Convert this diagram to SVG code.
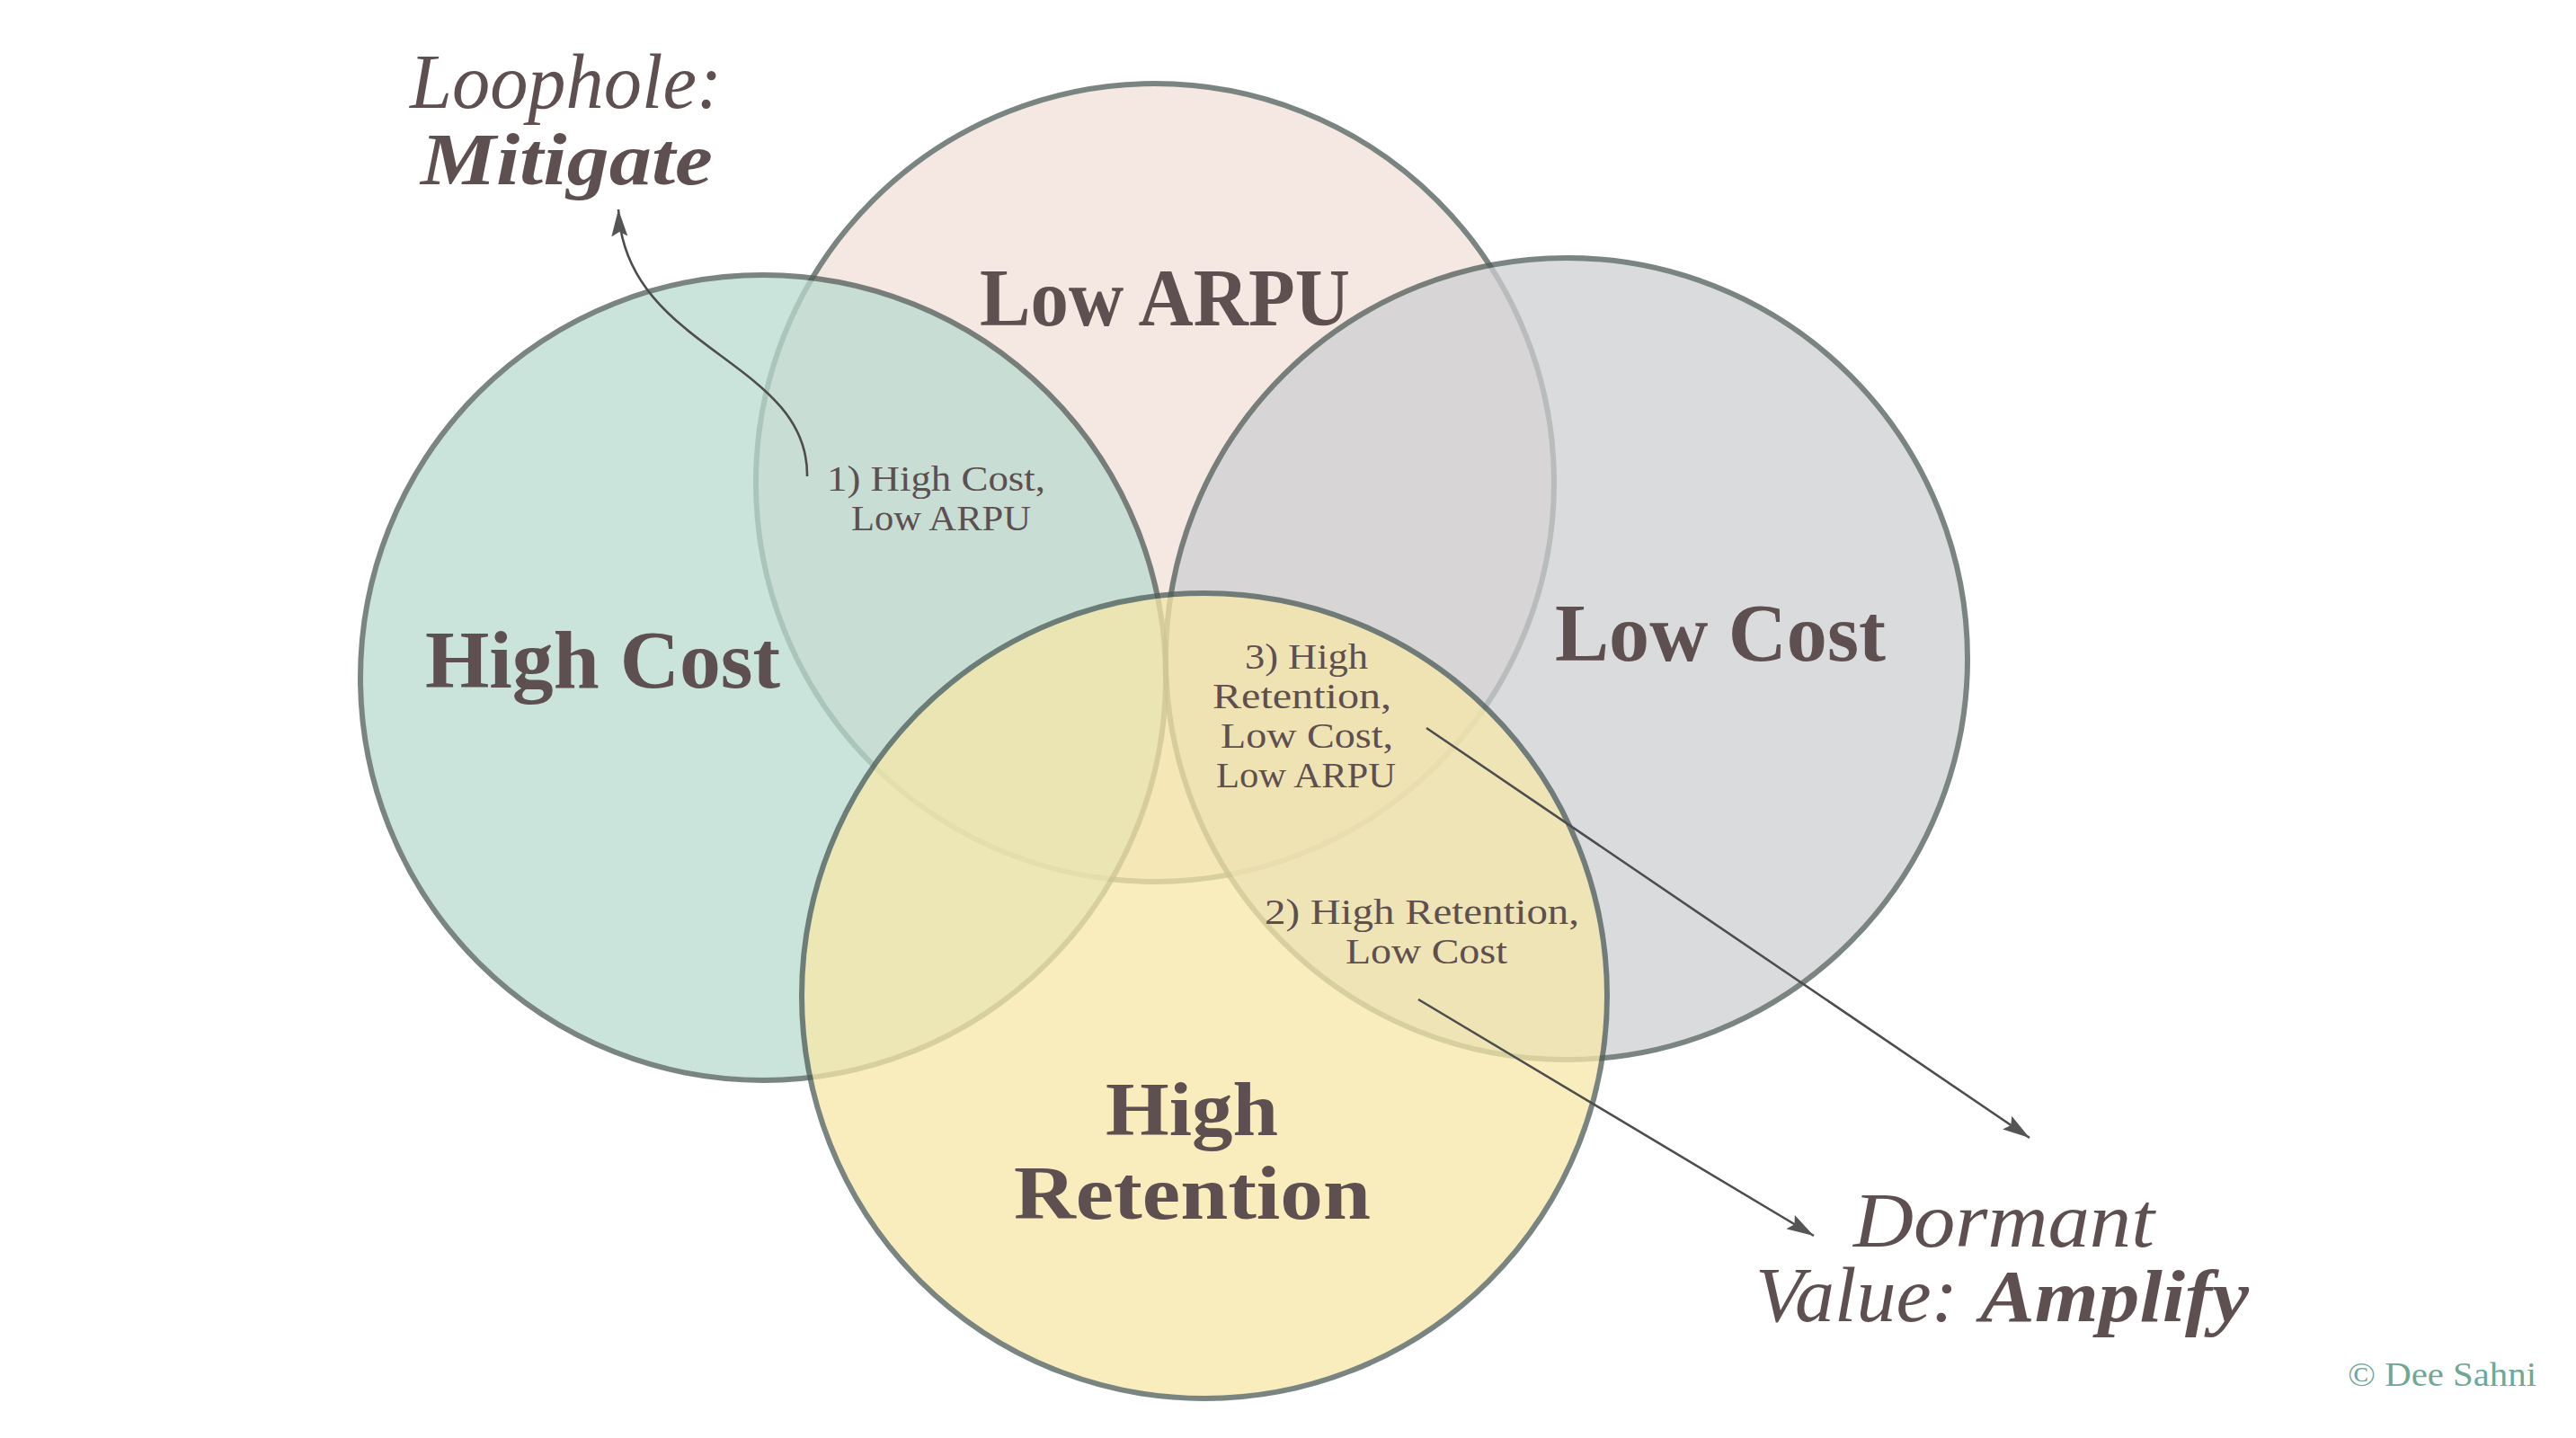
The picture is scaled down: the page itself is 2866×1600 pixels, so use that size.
<svg xmlns="http://www.w3.org/2000/svg" width="2866" height="1600" viewBox="0 0 2866 1600">
  <style>
    .set { opacity: 0.75; stroke: #4e5c58; stroke-width: 6; }
    .big { font-family: "Liberation Serif", "DejaVu Serif", serif; font-weight: bold; font-size: 90px; fill: #5e4f50; }
    .big2 { font-family: "Liberation Serif", "DejaVu Serif", serif; font-weight: bold; font-size: 84px; fill: #5e4f50; }
    .small { font-family: "Liberation Serif", "DejaVu Serif", serif; font-size: 39px; fill: #5e4f50; }
    .note { font-family: "Liberation Serif", "DejaVu Serif", serif; font-style: italic; font-size: 86px; fill: #5e4f50; }
    .noteb { font-family: "Liberation Serif", "DejaVu Serif", serif; font-style: italic; font-weight: bold; font-size: 82px; fill: #5e4f50; }
    .credit { font-family: "Liberation Serif", "DejaVu Serif", serif; font-size: 38px; fill: #6fa896; }
    .conn { fill: none; stroke: #4d4d4d; stroke-width: 2.6; }
  </style>
  <defs>
    <marker id="arrow" markerUnits="userSpaceOnUse" viewBox="0 0 30 20" markerWidth="30" markerHeight="20" refX="30" refY="10" orient="auto">
      <path d="M0,1 L30,10 L0,19 L5,10 z" fill="#555555"/>
    </marker>
  </defs>
  <rect width="2866" height="1600" fill="#ffffff"/>

  <g id="node-low-arpu">
    <circle class="set" cx="1285" cy="537" r="444" fill="#f2dfd7"/>
  </g>
  <g id="node-high-cost">
    <circle class="set" cx="849" cy="754" r="448" fill="#badcd0"/>
  </g>
  <g id="node-low-cost">
    <circle class="set" cx="1743" cy="733" r="446" fill="#cecfd2"/>
  </g>
  <g id="node-high-retention">
    <circle class="set" cx="1340" cy="1108" r="448" fill="#f7e8a8"/>
  </g>

  <g id="labels-sets">
    <text class="big" x="1090" y="362" textLength="412" lengthAdjust="spacingAndGlyphs">Low ARPU</text>
    <text class="big" x="473" y="765" textLength="395" lengthAdjust="spacingAndGlyphs">High Cost</text>
    <text class="big" x="1730" y="735" textLength="368" lengthAdjust="spacingAndGlyphs">Low Cost</text>
    <text class="big2" x="1230" y="1263" textLength="192" lengthAdjust="spacingAndGlyphs">High</text>
    <text class="big2" x="1128" y="1356" textLength="397" lengthAdjust="spacingAndGlyphs">Retention</text>
  </g>

  <g id="region-1">
    <text class="small" x="920" y="546" textLength="243" lengthAdjust="spacingAndGlyphs">1) High Cost,</text>
    <text class="small" x="947" y="590" textLength="200" lengthAdjust="spacingAndGlyphs">Low ARPU</text>
  </g>
  <g id="region-3">
    <text class="small" x="1385" y="744" textLength="137" lengthAdjust="spacingAndGlyphs">3) High</text>
    <text class="small" x="1349" y="788" textLength="199" lengthAdjust="spacingAndGlyphs">Retention,</text>
    <text class="small" x="1358" y="832" textLength="192" lengthAdjust="spacingAndGlyphs">Low Cost,</text>
    <text class="small" x="1353" y="876" textLength="200" lengthAdjust="spacingAndGlyphs">Low ARPU</text>
  </g>
  <g id="region-2">
    <text class="small" x="1407" y="1028" textLength="350" lengthAdjust="spacingAndGlyphs">2) High Retention,</text>
    <text class="small" x="1497" y="1072" textLength="180" lengthAdjust="spacingAndGlyphs">Low Cost</text>
  </g>

  <g id="node-loophole">
    <text class="note" x="456" y="120" textLength="347" lengthAdjust="spacingAndGlyphs">Loophole:</text>
    <text class="noteb" x="468" y="205" textLength="325" lengthAdjust="spacingAndGlyphs">Mitigate</text>
  </g>
  <g id="node-dormant">
    <text class="note" x="2062" y="1387" textLength="335" lengthAdjust="spacingAndGlyphs">Dormant</text>
    <text class="note" x="1953" y="1470" textLength="225" lengthAdjust="spacingAndGlyphs">Value:</text>
    <text class="noteb" x="2203" y="1470" textLength="299" lengthAdjust="spacingAndGlyphs">Amplify</text>
  </g>

  <g id="connectors">
    <path class="conn" d="M898,530 C900,400 695,390 688,233" marker-end="url(#arrow)"/>
    <path class="conn" d="M1587,810 L2258,1266" marker-end="url(#arrow)"/>
    <path class="conn" d="M1578,1112 L2018,1375" marker-end="url(#arrow)"/>
  </g>

  <g id="credit">
    <text class="credit" x="2612" y="1542" textLength="210" lengthAdjust="spacingAndGlyphs">© Dee Sahni</text>
  </g>
</svg>
